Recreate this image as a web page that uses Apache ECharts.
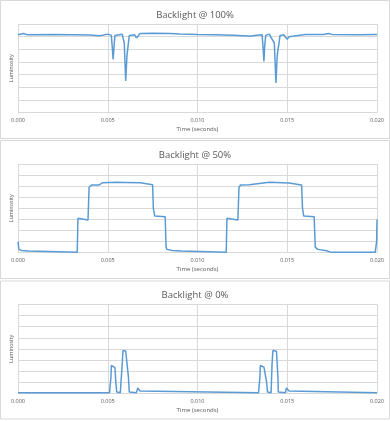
<!DOCTYPE html>
<html>
<head>
<meta charset="utf-8">
<script src="https://cdn.jsdelivr.net/npm/echarts@6/dist/echarts.min.js"></script>
<style>html,body{margin:0;padding:0;background:#fff;}#c{width:390px;height:421px;}</style>
</head>
<body>
<div id="c"></div>
<script>
const titles = ["Backlight @ 100%", "Backlight @ 50%", "Backlight @ 0%"];
const xTicks = [0, 0.005, 0.01, 0.015, 0.02];

const t100 = [0,0.0003,0.0005,0.002,0.003,0.004,0.0045,0.0047,0.005,0.0052,0.00526,0.0053,0.00535,0.0054,0.0055,0.0058,0.00592,0.006,0.00607,0.0062,0.0063,0.0065,0.0066,0.0067,0.0068,0.0075,0.0085,0.009,0.01,0.011,0.012,0.0128,0.013,0.0133,0.0136,0.01366,0.0137,0.01374,0.0138,0.014,0.01428,0.01437,0.01444,0.0146,0.0148,0.015,0.0151,0.0152,0.016,0.017,0.0173,0.0175,0.019,0.02];
const v100 = [6.15,6.25,6.16,6.17,6.15,6.13,6.08,6.12,6.2,6.1,5.0,4.2,5.2,6.1,6.2,6.2,5.5,2.5,4.5,6.1,6.2,6.15,5.9,6.0,6.25,6.27,6.25,6.22,6.17,6.15,6.12,6.05,6.05,6.12,6.15,5.0,4.05,5.2,6.1,6.2,5.5,2.35,4.5,6.1,6.15,5.8,6.0,6.15,6.17,6.18,6.25,6.18,6.15,6.17];

const t50 = [0,0.00005,0.0002,0.0006,0.0007,0.0033,0.00334,0.0034,0.0039,0.00396,0.0041,0.0045,0.0047,0.0055,0.006,0.0068,0.0069,0.0075,0.00754,0.00762,0.0082,0.00825,0.0083,0.0086,0.0091,0.0092,0.0116,0.01164,0.0117,0.01225,0.01231,0.0124,0.0129,0.013,0.014,0.0151,0.0152,0.0158,0.01585,0.01592,0.0165,0.01656,0.0167,0.0172,0.0174,0.0199,0.01998,0.02];
const v50 = [1.0,0.3,0.2,0.15,0.03,0.03,3.1,2.95,2.95,5.9,6.1,6.1,6.3,6.35,6.33,6.3,6.15,6.12,4.0,3.3,3.25,0.5,0.3,0.2,0.15,0.05,0.03,3.1,2.95,2.95,5.9,6.1,6.12,6.3,6.35,6.28,6.12,6.1,4.0,3.3,3.25,0.5,0.3,0.18,0.05,0.03,1.0,3.0];

const t0 = [0,0.0051,0.00518,0.0052,0.0053,0.0054,0.00545,0.0055,0.0057,0.0058,0.00585,0.006,0.0061,0.00615,0.0062,0.0066,0.00667,0.0068,0.0069,0.0134,0.01348,0.0135,0.0137,0.0138,0.01385,0.0139,0.0141,0.01415,0.0142,0.0144,0.01448,0.0145,0.0149,0.01495,0.0151,0.0152,0.02];
const v0 = [0.05,0.05,1.5,2.5,2.4,2.3,1.0,0.1,0.05,2.5,3.85,3.8,3.75,1.5,0.1,0.05,0.48,0.2,0.05,0.05,1.5,2.5,2.35,2.3,1.0,0.1,0.05,2.5,3.85,3.78,1.5,0.1,0.05,0.48,0.2,0.05,0.05];

const yMax = [7, 8, 8];
const series = [[t100, v100], [t50, v50], [t0, v0]];

const FONT = "Open Sans";
const panelTop = [0, 140, 280.5];
const grids = [], xAxes = [], yAxes = [], ser = [], titleOpts = [], gfx = [];
for (let i = 0; i < 3; i++) {
  const top = panelTop[i];
  gfx.push({type:'rect', shape:{x:0.5, y:top+0.5, width:389, height:138}, style:{fill:'none', stroke:'#d9d9d9', lineWidth:1}});
  titleOpts.push({text: titles[i], left: 'center', top: top + 5, textStyle:{fontFamily:FONT, fontSize:9.5, fontWeight:'normal', color:'#595959'}});
  grids.push({left: 17, right: 13, top: top + 24, height: 88.7});
  xAxes.push({type:'value', gridIndex:i, min:0, max:0.02, interval:0.005,
    name:'Time (seconds)', nameLocation:'middle', nameGap: 14,
    nameTextStyle:{fontFamily:FONT, fontSize:6, color:'#595959'},
    axisLine:{show:false}, axisTick:{show:false},
    axisLabel:{fontFamily:FONT, fontSize:5.5, color:'#595959', margin:5, formatter: v => v.toFixed(3)},
    splitLine:{show:true, lineStyle:{color:'#d9d9d9', width:1}}});
  yAxes.push({type:'value', gridIndex:i, min:0, max:yMax[i], interval:1,
    name:'Luminosity', nameLocation:'middle', nameGap: 4, nameRotate: 90,
    nameTextStyle:{fontFamily:FONT, fontSize:5.5, color:'#595959'},
    axisLine:{show:false}, axisTick:{show:false}, axisLabel:{show:false},
    splitLine:{show:true, lineStyle:{color:'#d9d9d9', width:1}}});
  const [ts, vs] = series[i];
  ser.push({type:'line', xAxisIndex:i, yAxisIndex:i, showSymbol:false, symbol:'none',
    data: ts.map((t, k) => [t, vs[k]]),
    lineStyle:{color:'#5b9bd5', width:1.5}, animation:false});
}

const chart = echarts.init(document.getElementById('c'));
chart.setOption({
  animation:false,
  backgroundColor:'#fff',
  title: titleOpts,
  grid: grids,
  xAxis: xAxes,
  yAxis: yAxes,
  series: ser,
  graphic: gfx
});
</script>
</body>
</html>
